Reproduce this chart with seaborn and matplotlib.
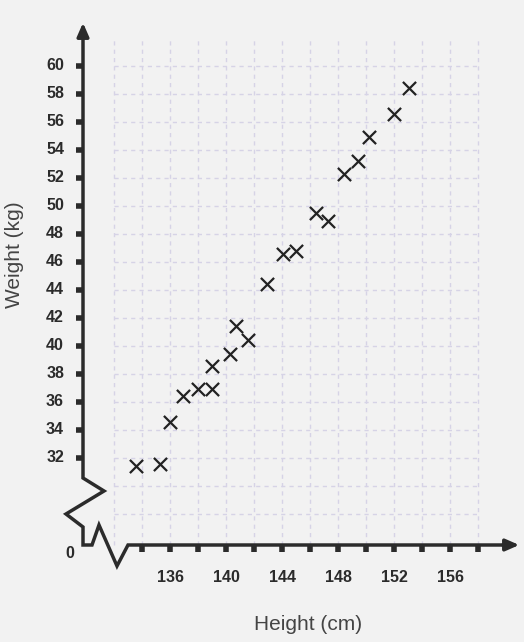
import numpy as np
import pandas as pd
import matplotlib
matplotlib.use('Agg')
import matplotlib.pyplot as plt
import seaborn as sns

height_cm = [133.6, 135.3, 136.0, 136.9, 138.0, 139.0, 139.0, 140.3, 140.7, 141.6,
             142.9, 144.1, 145.0, 146.4, 147.3, 148.4, 149.4, 150.2, 152.0, 153.1]
weight_kg = [31.4, 31.6, 34.6, 36.4, 36.9, 36.9, 38.6, 39.4, 41.4, 40.4,
             44.4, 46.6, 46.8, 49.5, 48.9, 52.3, 53.2, 54.9, 56.6, 58.4]
x_ticks = [136, 140, 144, 148, 152, 156]
y_ticks = list(range(32, 61, 2))

df = pd.DataFrame({'h': height_cm, 'w': weight_kg})

sns.set_style('white')
plt.rcParams['font.family'] = ['Liberation Sans', 'DejaVu Sans']
bg = '#f2f2f2'
ink = '#2b2b2b'

fig = plt.figure(figsize=(5.24, 6.42), dpi=100, facecolor=bg)
ax = fig.add_axes([0, 0, 1, 1], facecolor=bg)
# 14 px per unit on both axes, mapped to the figure pixels
px = 1 / 14
x0 = 136 - 170 * px
y1 = 60 + 66 * px
ax.set_xlim(x0, x0 + 524 * px)
ax.set_ylim(y1 - 642 * px, y1)
ax.axis('off')

def X(p):
    return x0 + p * px

def Y(p):
    return y1 - p * px

grid_c = '#d6d3e6'
for gx in range(132, 159, 2):
    ax.plot([gx, gx], [Y(545), Y(40)], color=grid_c, lw=1, ls=(0, (3, 3)), zorder=0)
for gy in range(28, 61, 2):
    ax.plot([132, 158], [gy, gy], color=grid_c, lw=1, ls=(0, (3, 3)), zorder=0)

# y axis with break
ya = X(83)
ax.plot([ya, ya, X(104), X(66), ya, ya, X(92), X(99), X(117), X(128), X(505)],
        [Y(30), Y(478), Y(491), Y(514), Y(527), Y(545), Y(545), Y(525), Y(566), Y(545), Y(545)],
        color=ink, lw=2.5, solid_joinstyle='miter', zorder=3)
ax.annotate('', xy=(ya, Y(20)), xytext=(ya, Y(40)),
            arrowprops=dict(arrowstyle='-|>,head_width=0.35,head_length=0.8', color=ink, lw=2.5))
ax.annotate('', xy=(X(522), Y(545)), xytext=(X(500), Y(545)),
            arrowprops=dict(arrowstyle='-|>,head_width=0.35,head_length=0.8', color=ink, lw=2.5))

for t in y_ticks:
    ax.plot([X(76), ya], [t, t], color=ink, lw=4, solid_capstyle='butt', zorder=3)
    ax.text(X(64), t, str(t), ha='right', va='center', fontsize=11.5, fontweight='bold', color=ink)
for t in range(134, 159, 2):
    ax.plot([t, t], [Y(545), Y(552)], color=ink, lw=4, solid_capstyle='butt', zorder=3)
for t in x_ticks:
    ax.text(t, Y(578), str(t), ha='center', va='center', fontsize=11.5, fontweight='bold', color=ink)
ax.text(X(70), Y(553), '0', ha='center', va='center', fontsize=11.5, fontweight='bold', color=ink)

ax.text(X(308), Y(624), 'Height (cm)', ha='center', va='center', fontsize=15, color='#444444')
ax.text(X(15), Y(255), 'Weight (kg)', ha='center', va='center', fontsize=15, color='#444444',
        rotation=90)

sns.scatterplot(data=df, x='h', y='w', marker='x', s=90, color='#222222', linewidth=1.6,
                ax=ax, zorder=4)
ax.set_xlim(x0, x0 + 524 * px)
ax.set_ylim(y1 - 642 * px, y1)
ax.axis('off')

fig.savefig('out.png', dpi=100, facecolor=bg)
